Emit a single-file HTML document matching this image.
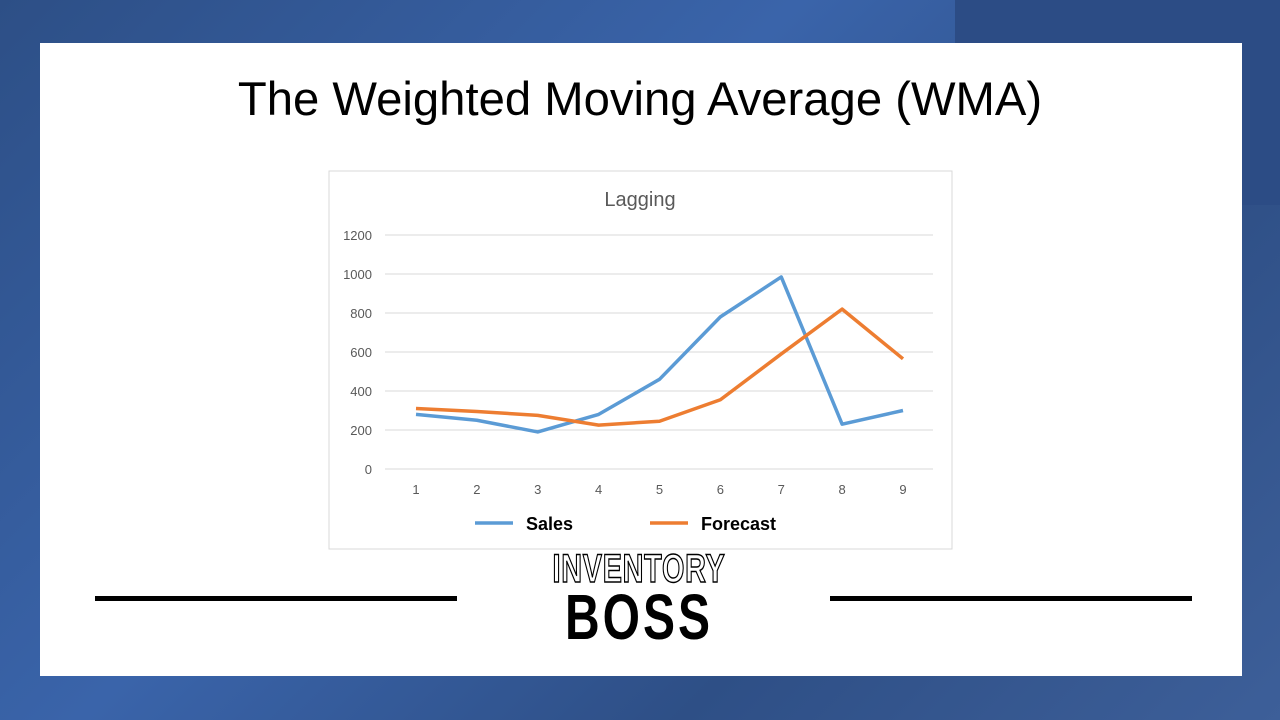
<!DOCTYPE html>
<html><head><meta charset="utf-8"><style>
body{margin:0;width:1280px;height:720px;overflow:hidden;font-family:"Liberation Sans",sans-serif;
background:linear-gradient(135deg,#2d4f86 0%,#3a64aa 40%,#2e4f86 70%,#3d5f99 100%);position:relative}
.bgr{position:absolute;left:955px;top:0;width:325px;height:205px;background:#2c4c85}
.panel{position:absolute;left:40px;top:43px;width:1202px;height:633px;background:#fff}
h1{position:absolute;left:0;width:1280px;top:71px;margin:0;text-align:center;font-weight:normal;font-size:47px;color:#000;transform:scaleX(1.005)}
.line{position:absolute;top:596px;height:5px;background:#000}
.logo1{position:absolute;left:505px;width:268px;top:548px;text-align:center;font-size:40px;font-weight:bold;color:#fff;-webkit-text-stroke:1.5px #000;transform:scaleX(0.72);letter-spacing:1px;line-height:42px}
.logo2{position:absolute;left:505px;width:268px;top:582px;text-align:center;font-size:64px;font-weight:bold;color:#000;transform:scaleX(0.75);letter-spacing:4px;line-height:70px}
</style></head><body>
<div class="bgr"></div>
<div class="panel"></div>
<h1>The Weighted Moving Average (WMA)</h1>
<svg id="chart" style="position:absolute;left:0;top:0" width="1280" height="720"></svg>
<div class="line" style="left:95px;width:362px"></div>
<div class="line" style="left:830px;width:362px"></div>
<div class="logo1">INVENTORY</div>
<div class="logo2">BOSS</div>
<script>
const categories=["1","2","3","4","5","6","7","8","9"];
const sales=[280,250,190,280,460,780,985,230,300];
const forecast=[310,295,275,225,245,355,590,820,565];
const yTicks=[0,200,400,600,800,1000,1200];
const svg=document.getElementById('chart');
const NS="http://www.w3.org/2000/svg";
function mk(t,a,p){const e=document.createElementNS(NS,t);for(const k in a)e.setAttribute(k,a[k]);(p||svg).appendChild(e);return e;}
const x=i=>416+i*60.875;
const y=v=>469-v*0.195;
const box=mk('rect',{x:329,y:171,width:623,height:378,fill:'#fff',stroke:'#d9d9d9'});


const t=mk('text',{x:640,y:206,'text-anchor':'middle','font-size':20,fill:'#595959','font-family':'Liberation Sans'});t.textContent='Lagging';


yTicks.forEach(v=>{
 const g=mk('line',{x1:385,x2:933,y1:y(v),y2:y(v),stroke:'#d9d9d9','stroke-width':1});
 
 
 const l=mk('text',{x:372,y:y(v)+5,'text-anchor':'end','font-size':13,fill:'#595959'});l.textContent=v;
 
 
});
categories.forEach((c,i)=>{
 const l=mk('text',{x:x(i),y:494,'text-anchor':'middle','font-size':13,fill:'#595959'});l.textContent=c;
 
 
});
function series(d,col,name){
 const p=mk('polyline',{points:d.map((v,i)=>x(i)+','+y(v)).join(' '),fill:'none',stroke:col,'stroke-width':3.5,'stroke-linejoin':'round'});
 
 
}
series(sales,'#5b9bd5','sales-line');
series(forecast,'#ed7d31','forecast-line');
[[475,'#5b9bd5','Sales','legend-sales'],[650,'#ed7d31','Forecast','legend-forecast']].forEach(([lx,c,n,dn])=>{
 const g=mk('g',{});
 
 
 mk('line',{x1:lx,x2:lx+38,y1:523,y2:523,stroke:c,'stroke-width':3.5},g);
 const tx=mk('text',{x:lx+51,y:530,'font-size':18,'font-weight':'bold',fill:'#000'},g);tx.textContent=n;
});
</script>
</body></html>
